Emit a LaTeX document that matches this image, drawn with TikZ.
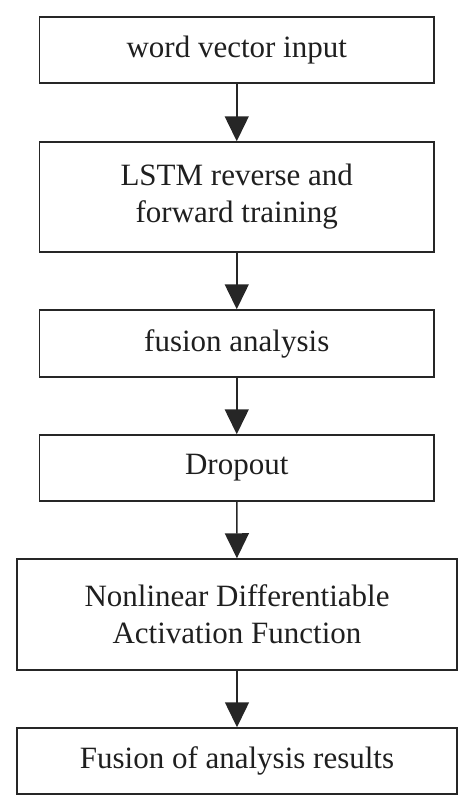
\documentclass[tikz,border=0pt]{standalone}
\usepackage{fontspec}
\setmainfont{Liberation Serif}
\usetikzlibrary{arrows.meta}
\begin{document}
\begin{tikzpicture}[x=1pt,y=-1pt,
  stepbox/.style={draw=black!85, line width=1.5pt, inner sep=0pt, align=center,
    text=black!88, font=\fontsize{31}{37}\selectfont},
  conn/.style={draw=black!85, line width=1.5pt, -{Triangle[width=24pt,length=25pt]}}]
\useasboundingbox (0,0) rectangle (474,812);
\node[stepbox, minimum width=394.5pt, minimum height=66pt] (b1) at (236.75,50) {word vector input};
\node[stepbox, minimum width=394.5pt, minimum height=110pt] (b2) at (236.75,197) {LSTM reverse and\\forward training};
\node[stepbox, minimum width=394.5pt, minimum height=67pt] (b3) at (236.75,343.5) {fusion analysis};
\node[stepbox, minimum width=394.5pt, minimum height=66pt] (b4) at (236.75,468) {Dropout};
\node[stepbox, minimum width=440pt, minimum height=111pt] (b5) at (237,614.5) {Nonlinear Differentiable\\Activation Function};
\node[stepbox, minimum width=440pt, minimum height=66pt] (b6) at (237,761) {Fusion of analysis results};
\draw[conn] (b1) -- (b2);
\draw[conn] (b2) -- (b3);
\draw[conn] (b3) -- (b4);
\draw[conn] (b4) -- (b5);
\draw[conn] (b5) -- (b6);
\end{tikzpicture}
\end{document}
